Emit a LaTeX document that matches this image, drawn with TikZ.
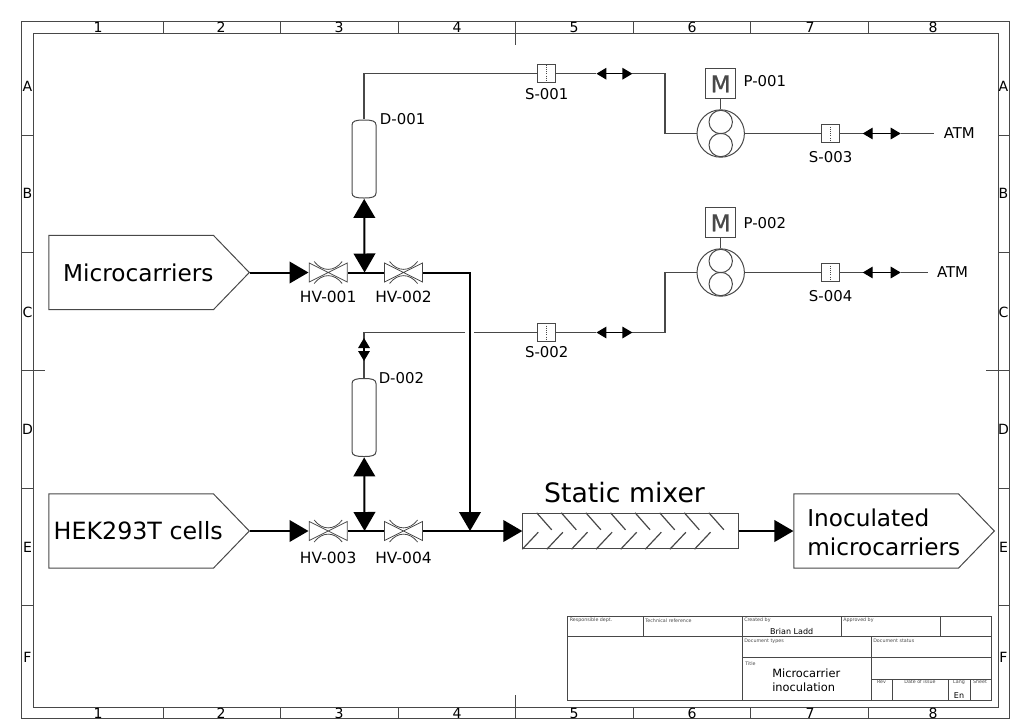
\documentclass[tikz,border=0pt]{standalone}
\usepackage{fontspec}
\setmainfont{DejaVu Sans}
\newfontfamily\motorfont{DejaVu Sans}[FakeBold=0.8]
\usetikzlibrary{shapes,arrows.meta,positioning}
\definecolor{linegray}{HTML}{484848}
\newcommand{\fsize}[1]{\fontsize{#1}{#1}\selectfont}
\tikzstyle{frame} = [line width=0.25mm, draw=linegray]
\tikzstyle{pipe} = [line width=0.3mm, draw=linegray]
\tikzstyle{mainline} = [line width=0.5mm, draw=black]
\tikzstyle{bigarrow} = [mainline, -{Triangle[length=4.75mm,width=5.4mm]}]
\tikzstyle{bigboth} = [mainline, {Triangle[length=4.75mm,width=5.4mm]}-{Triangle[length=4.75mm,width=5.4mm]}]
\tikzstyle{smallboth} = [line width=0.3mm, draw=black, {Triangle[length=2.5mm,width=2.9mm]}-{Triangle[length=2.5mm,width=2.9mm]}]
\tikzstyle{tag} = [inner sep=0, font=\fsize{10.6}]
\tikzstyle{hvtag} = [inner sep=0, font=\fsize{11}]
\tikzstyle{gridlabel} = [inner sep=0, font=\fsize{10}]
\tikzstyle{fine} = [inner sep=0, font=\fsize{3.4}, text=linegray]
\tikzstyle{stream} = [signal, signal to=east, signal pointer angle=92, draw=linegray, line width=0.25mm, minimum width=50.1mm, minimum height=18.6mm, inner sep=0]
\tikzstyle{streamtext} = [inner sep=0, align=left, font=\fontsize{16.5}{20.3}\selectfont]
\tikzstyle{sensor} = [rectangle, draw=linegray, line width=0.25mm, minimum size=4.6mm, inner sep=0,
  path picture={\draw [linegray, line width=0.2mm, densely dotted] (path picture bounding box.north) -- (path picture bounding box.south);}]
\tikzstyle{valve} = [rectangle, minimum width=9.7mm, minimum height=6.5mm, inner sep=0,
  path picture={\begin{scope}[shift={(path picture bounding box.center)}, line width=0.2mm, linegray]
    \draw (-19,-9.5) -- (19,9.5) -- (19,-9.5) -- (-19,9.5) -- cycle;
    \draw (-14,-11) .. controls (-6,-0.5) and (6,-0.5) .. (14,-11);
    \draw (-14,11) .. controls (-6,0.5) and (6,0.5) .. (14,11);
  \end{scope}}]
\tikzstyle{vessel} = [rectangle, minimum width=6.3mm, minimum height=19.8mm, inner sep=0,
  path picture={\begin{scope}[shift={(path picture bounding box.center)}, line width=0.25mm, linegray]
    \draw (-12,-34) .. controls (-12,-38) and (-8,-39) .. (0,-39) .. controls (8,-39) and (12,-38) .. (12,-34)
       -- (12,34) .. controls (12,38) and (8,39) .. (0,39) .. controls (-8,39) and (-12,38) .. (-12,34) -- cycle;
  \end{scope}}]
\tikzstyle{pump} = [circle, draw=linegray, line width=0.25mm, minimum size=11.85mm, inner sep=0,
  path picture={\begin{scope}[shift={(path picture bounding box.center)}, line width=0.25mm, linegray]
    \draw (0,-11.5) circle [radius=11.7];
    \draw (0,11.5) circle [radius=11.7];
  \end{scope}}]
\tikzstyle{motor} = [rectangle, draw=linegray, line width=0.25mm, minimum size=7.5mm, inner sep=0, font=\motorfont\fsize{16.5}, text=linegray]

\begin{document}
\begin{tikzpicture}[x=0.25mm, y=-0.25mm] % one unit is one pixel of the sheet
\useasboundingbox (0,0) rectangle (1024,727);

% Sheet frame and its grid
\draw [frame] (21.5,21) rectangle (1009,718);
\draw [frame] (33.5,33) rectangle (998,707);
\foreach \x in {163,280,398,633,750,868} {
  \draw [frame] (\x,21) -- (\x,33);
  \draw [frame] (\x,707) -- (\x,718);
}
\foreach \y in {135,252,488,605} {
  \draw [frame] (21.5,\y) -- (33.5,\y);
  \draw [frame] (998,\y) -- (1009,\y);
}
\draw [frame] (515,21) -- (515,45);
\draw [frame] (515,695) -- (515,718);
\draw [frame] (21.5,370) -- (45,370);
\draw [frame] (986,370) -- (1009,370);
\foreach \x/\t in {98/1,221/2,339/3,457/4,574/5,692/6,810/7,933/8} {
  \node (top\t) [gridlabel] at (\x,27) {\t};
  \node (bottom\t) [gridlabel] at (\x,713) {\t};
}
\foreach \y/\t in {86/A,193/B,312/C,429/D,547/E,657/F} {
  \node (left\t) [gridlabel] at (27.5,\y) {\t};
  \node (right\t) [gridlabel] at (1003.5,\y) {\t};
}

% Place the nodes on the flowsheet
\node (microcarriers) [stream, anchor=east] at (250,272.5) {};
\node (microcarrierstext) [streamtext, right=3.6mm of microcarriers.west] {Microcarriers};
\node (hv001) [valve, anchor=west] at (308.5,272.5) {};
\node (hv002) [valve, right=9mm of hv001] {};
\coordinate [right=4.175mm of hv001] (tee001);
\node (d001) [vessel] at (364,159) {};
\node (s001) [sensor] at (546.7,73.7) {};
\coordinate [right=10mm of s001] (bi001a);
\coordinate [right=9mm of bi001a] (bi001b);
\coordinate (bend001) at (665,73.7);
\node (p001) [pump] at (720.7,133.5) {};
\node (m001) [motor, above=2.5mm of p001] {M};
\node (s003) [sensor, right=19mm of p001] {};
\coordinate [right=5.6mm of s003] (bi003a);
\coordinate [right=9.5mm of bi003a] (bi003b);
\coordinate [right=8.4mm of bi003b] (atm001);

\node (p002) [pump] at (720.7,272.5) {};
\node (m002) [motor, above=2.5mm of p002] {M};
\node (s004) [sensor, right=19mm of p002] {};
\coordinate [right=5.6mm of s004] (bi004a);
\coordinate [right=9.5mm of bi004a] (bi004b);
\coordinate [right=6.7mm of bi004b] (atm002);
\node (s002) [sensor] at (546.7,332.5) {};
\coordinate [right=10mm of s002] (bi002a);
\coordinate [right=9mm of bi002a] (bi002b);
\coordinate (bend002) at (665,332.5);
\coordinate (gap002a) at (473.5,332.5);
\coordinate (gap002b) at (465,332.5);
\coordinate (bend003) at (364,332.5);
\coordinate (bi005a) at (364,338);
\coordinate (bi005b) at (364,361);
\node (d002) [vessel] at (364,417.5) {};

\node (hek) [stream, anchor=east] at (250,531) {};
\node (hektext) [streamtext, font=\fsize{16.9}, right=1.25mm of hek.west] {HEK293T cells};
\node (hv003) [valve, anchor=west] at (308.5,531) {};
\node (hv004) [valve, right=9mm of hv003] {};
\coordinate [right=4.175mm of hv003] (tee002);
\coordinate (merge) at (470,531);
\node (mixer) [rectangle, draw=linegray, line width=0.25mm, minimum width=53.85mm, minimum height=8.85mm, inner sep=0, anchor=west] at (522.3,531) {};
\node (product) [stream, anchor=east] at (995,531) {};
\node (producttext) [streamtext, right=3.4mm of product.west, yshift=-0.3mm] {Inoculated\\microcarriers};

% Hatching of the mixer
\foreach \i in {0,...,7} {
  \draw [pipe] ([xshift=3.6mm+\i*6.15mm]mixer.north west) -- ++(15,17);
  \draw [pipe] ([xshift=\i*6.15mm]mixer.south west) -- ++(16,-17);
}

% Tags
\node (hv001tag) [hvtag, below=1.3mm of hv001] {HV-001};
\node (hv002tag) [hvtag, below=1.3mm of hv002] {HV-002};
\node (hv003tag) [hvtag, below=1.9mm of hv003] {HV-003};
\node (hv004tag) [hvtag, below=1.9mm of hv004] {HV-004};
\node (d001tag)  [tag, right=0.7mm of d001.north east, yshift=-0.1mm] {D-001};
\node (d002tag)  [tag, right=0.4mm of d002.north east, yshift=-0.1mm] {D-002};
\node (s001tag)  [tag, below=1.2mm of s001] {S-001};
\node (s002tag)  [tag, below=1.1mm of s002] {S-002};
\node (s003tag)  [tag, below=2.1mm of s003] {S-003};
\node (s004tag)  [tag, below=2.1mm of s004] {S-004};
\node (p001tag)  [tag, right=1.8mm of m001, yshift=0.6mm] {P-001};
\node (p002tag)  [tag, right=1.8mm of m002] {P-002};
\node (atm001tag) [tag, right=2.3mm of atm001] {ATM};
\node (atm002tag) [tag, right=2.3mm of atm002] {ATM};
\node (mixertag) [above=2.3mm of mixer, xshift=-1.5mm, inner sep=0, font=\fsize{19}] {Static mixer};

% Connect the nodes with pipes
\draw [bigarrow] (microcarriers.east) -- (hv001);
\draw [mainline] (hv001) -- (hv002);
\draw [bigboth]  (tee001) -- (d001);
\draw [bigarrow] (hv002) -| (merge);
\draw [bigarrow] (hek.east) -- (hv003);
\draw [mainline] (hv003) -- (hv004);
\draw [bigboth]  (tee002) -- (d002);
\draw [bigarrow] (hv004) -- (mixer);
\draw [bigarrow] (mixer) -- (product.west);

\draw [pipe] (d001) |- (s001);
\draw [pipe] (s001) -- (bi001a);
\draw [smallboth] (bi001a) -- (bi001b);
\draw [pipe] (bi001b) -- (bend001) |- (p001);
\draw [pipe] (m001) -- (p001);
\draw [pipe] (p001) -- (s003);
\draw [pipe] (s003) -- (bi003a);
\draw [smallboth] (bi003a) -- (bi003b);
\draw [pipe] (bi003b) -- (atm001);

\draw [pipe] (m002) -- (p002);
\draw [pipe] (p002) -- (s004);
\draw [pipe] (s004) -- (bi004a);
\draw [smallboth] (bi004a) -- (bi004b);
\draw [pipe] (bi004b) -- (atm002);
\draw [pipe] (p002) -| (bend002) -- (bi002b);
\draw [smallboth] (bi002a) -- (bi002b);
\draw [pipe] (bi002a) -- (s002);
\draw [pipe] (s002) -- (gap002a);
\draw [pipe] (gap002b) -- (bend003) -- (d002);
\draw [smallboth] (bi005a) -- (bi005b);

% Title block
\draw [frame] (567.7,616) rectangle (991,700);
\draw [frame] (567.7,636.7) -- (991,636.7);
\draw [frame] (643.3,616) -- (643.3,636.7);
\draw [frame] (742.3,616) -- (742.3,700);
\draw [frame] (841,616) -- (841,636.7);
\draw [frame] (940,616) -- (940,636.7);
\draw [frame] (871,636.7) -- (871,700);
\draw [frame] (742.3,657.3) -- (991,657.3);
\draw [frame] (871,679) -- (991,679);
\draw [frame] (892.3,679) -- (892.3,700);
\draw [frame] (948.3,679) -- (948.3,700);
\draw [frame] (970,679) -- (970,700);

\node (dept)     [fine, anchor=west] at (569.5,620.5) {Responsible dept.};
\node (techref)  [fine, anchor=west] at (645,621) {Technical reference};
\node (created)  [fine, anchor=west] at (744,620.5) {Created by};
\node (approved) [fine, anchor=west] at (843,620.5) {Approved by};
\node (doctypes) [fine, anchor=west] at (744,641) {Document types};
\node (docstat)  [fine, anchor=west] at (873,641) {Document status};
\node (titletag) [fine, anchor=west] at (745,663.5) {Title};
\node (rev)      [fine] at (881.5,682) {Rev};
\node (issue)    [fine] at (920,682) {Date of issue};
\node (lang)     [fine] at (959,682) {Lang};
\node (sheet)    [fine] at (980,682) {Sheet};
\node (author)   [inner sep=0, font=\fsize{5.7}] at (791.7,631) {Brian Ladd};
\node (title)    [inner sep=0, align=left, anchor=west, font=\fontsize{8.1}{10.2}\selectfont] at (772,680.5) {Microcarrier\\inoculation};
\node (langval)  [inner sep=0, font=\fsize{5.7}] at (959,695.5) {En};

\end{tikzpicture}
\end{document}
